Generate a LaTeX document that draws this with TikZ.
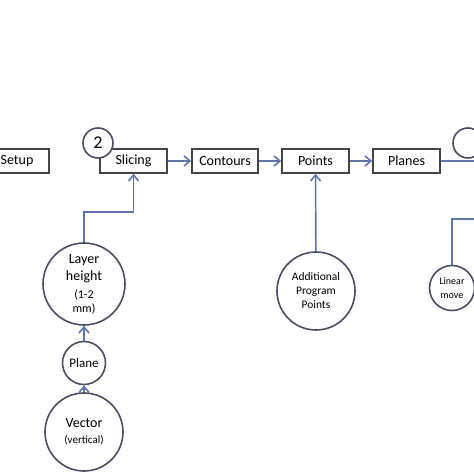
\documentclass[tikz,border=0pt]{standalone}
\usepackage{fontspec}
\setmainfont{Carlito}
\usepackage{tikz}
\usepackage{xcolor}
\usetikzlibrary{arrows.meta,positioning,calc}
\definecolor{boxline}{HTML}{454545}
\definecolor{ringline}{HTML}{4A4E5E}
\definecolor{flowblue}{HTML}{6473A8}
\tikzset{
  stagebox/.style={
    draw=boxline,
    line width=1.5pt,
    fill=white,
    minimum width=67pt,
    minimum height=24pt,
    inner sep=2pt,
    font=\fontsize{14}{16}\selectfont
  },
  inputring/.style={
    circle,
    draw=ringline,
    line width=1.6pt,
    fill=white,
    align=center,
    inner sep=0pt
  },
  stepring/.style={
    circle,
    draw=ringline,
    line width=1.6pt,
    fill=white,
    minimum size=30pt,
    inner sep=0pt,
    font=\fontsize{18}{18}\selectfont
  },
  flowarrow/.style={-{Straight Barb[length=6pt,width=10pt]}, line width=1.6pt, draw=flowblue},
  flowline/.style={line width=1.6pt, draw=flowblue}
}

\begin{document}
\begin{tikzpicture}[x=1pt,y=1pt]
\useasboundingbox (0,0) rectangle (474,474);
\clip (0,0) rectangle (474,474);

% top row of stages
\node[stagebox, minimum width=64pt] (setup) at (17,313) {Setup};
\node[stagebox] (slicing) at (133.5,313) {Slicing};
\node[stagebox, minimum width=66pt] (contours) at (225,313) {Contours};
\node[stagebox] (points) at (315.5,313) {Points};
\node[stagebox] (planes) at (406.5,313) {Planes};
\node[stepring] (step2) at (98,331) {2};
\node[stepring] (step3) at (468,331) {};
\coordinate (offright) at (480,313);

% inputs
\node[inputring, minimum size=82pt, font=\fontsize{14}{17}\selectfont] (layer) at (84,190)
  {Layer\\height\\[1pt]{\fontsize{12}{14}\selectfont (1-2}\\[-3pt]{\fontsize{12}{14}\selectfont mm)}};
\node[inputring, minimum size=43pt, font=\fontsize{13}{15}\selectfont] (plane) at (84,111) {Plane};
\node[inputring, minimum size=78pt, font=\fontsize{14}{16}\selectfont] (vector) at (84,42)
  {Vector\\{\fontsize{11}{13}\selectfont (vertical)}};
\node[inputring, minimum size=78pt, font=\fontsize{11.5}{14}\selectfont] (addpts) at (316,183)
  {Additional\\Program\\Points};
\node[inputring, minimum size=45pt, font=\fontsize{10}{13.5}\selectfont] (linear) at (452,186)
  {Linear\\move};
\coordinate (offlinear) at (480,255);

\draw[flowarrow] (slicing) -- (contours);
\draw[flowarrow] (contours) -- (points);
\draw[flowarrow] (points) -- (planes);
\draw[flowline] (planes) -- (offright);
\draw[flowarrow] (layer.north) -- ++(0,30) -| (slicing.south);
\draw[flowarrow] (plane) -- (layer);
\draw[flowarrow] (vector) -- (plane);
\draw[flowarrow] (addpts) -- (points);
\draw[flowline] (linear.north) |- (offlinear);
\end{tikzpicture}
\end{document}
